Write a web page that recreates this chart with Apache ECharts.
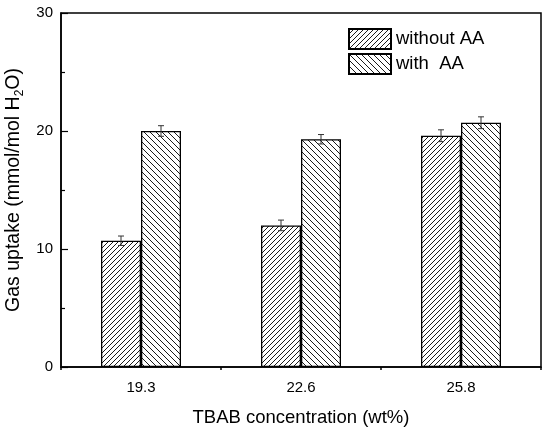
<!DOCTYPE html>
<html>
<head>
<meta charset="utf-8">
<script src="https://cdn.jsdelivr.net/npm/echarts@6/dist/echarts.min.js"></script>
<style>html,body{margin:0;padding:0;background:#fff}#c{width:550px;height:432px}</style>
</head>
<body>
<div id="c"></div>
<script>
const categories = ['19.3', '22.6', '25.8'];
const withoutAA = [10.7, 12.0, 19.6];
const withoutAAErr = [0.4, 0.45, 0.5];
const withAA = [20.0, 19.3, 20.7];
const withAAErr = [0.45, 0.4, 0.5];
const seriesNames = ['without AA', 'with  AA'];

function hatch(size, dir) {
  const cv = document.createElement('canvas');
  cv.width = size; cv.height = size;
  const ctx = cv.getContext('2d');
  ctx.fillStyle = '#fff';
  ctx.fillRect(0, 0, size, size);
  ctx.strokeStyle = '#000';
  ctx.lineWidth = 0.9;
  ctx.beginPath();
  if (dir === '/') {
    ctx.moveTo(-1, size + 1); ctx.lineTo(size + 1, -1);
    ctx.moveTo(-1, 1); ctx.lineTo(1, -1);
    ctx.moveTo(size - 1, size + 1); ctx.lineTo(size + 1, size - 1);
  } else {
    ctx.moveTo(-1, -1); ctx.lineTo(size + 1, size + 1);
    ctx.moveTo(size - 1, -1); ctx.lineTo(size + 1, 1);
    ctx.moveTo(-1, size - 1); ctx.lineTo(1, size + 1);
  }
  ctx.stroke();
  return { image: cv, repeat: 'repeat' };
}

function errData(vals, errs) {
  return vals.map((v, i) => [i, v, errs[i]]);
}

function errRender(offsetFrac) {
  return function (params, api) {
    const i = api.value(0), v = api.value(1), e = api.value(2);
    const bw = api.size([1, 0])[0];
    const c = api.coord([i, v]);
    const x = c[0] + offsetFrac * bw;
    const yh = api.coord([i, v + e])[1];
    const yl = api.coord([i, v - e])[1];
    const cap = 3;
    const st = { stroke: '#333', lineWidth: 1 };
    return {
      type: 'group',
      children: [
        { type: 'line', shape: { x1: x, y1: yh, x2: x, y2: yl }, style: st },
        { type: 'line', shape: { x1: x - cap, y1: yh, x2: x + cap, y2: yh }, style: st },
        { type: 'line', shape: { x1: x - cap, y1: yl, x2: x + cap, y2: yl }, style: st }
      ]
    };
  };
}

const chart = echarts.init(document.getElementById('c'));
const font = 'Liberation Sans, Arial, sans-serif';
chart.setOption({
  animation: false,
  textStyle: { fontFamily: font },
  grid: { left: 61, right: 9, top: 13, bottom: 65, show: true, borderColor: '#000', borderWidth: 1.5, outerBoundsMode: 'none', containLabel: false },
  legend: {
    data: seriesNames,
    orient: 'vertical',
    left: 348, top: 28, padding: 0,
    itemWidth: 42, itemHeight: 20, itemGap: 3,
    icon: 'rect',
    textStyle: { fontSize: 18.5, color: '#000', fontFamily: font, padding: [0, 0, 0, 0] }
  },
  xAxis: {
    type: 'category',
    data: categories,
    axisLine: { lineStyle: { color: '#000', width: 1.5 } },
    axisTick: { show: true, inside: false, length: 3, lineStyle: { color: '#000', width: 1.5 } },
    axisLabel: { fontSize: 15, color: '#000', margin: 13 },
    name: 'TBAB concentration (wt%)',
    nameLocation: 'middle',
    nameGap: 41,
    nameTextStyle: { fontSize: 18.5, color: '#000' }
  },
  yAxis: {
    type: 'value',
    min: 0, max: 30, interval: 10,
    splitLine: { show: false },
    axisLine: { show: true, lineStyle: { color: '#000', width: 1.5 } },
    axisTick: { show: true, inside: true, length: 7, lineStyle: { color: '#000', width: 1.2 } },
    minorTick: { show: true, splitNumber: 2, length: 4, lineStyle: { color: '#000', width: 1.2 } },
    axisLabel: { fontSize: 15, color: '#000', margin: 8 },
    name: 'Gas uptake (mmol/mol H{sub|2}O)',
    nameLocation: 'middle',
    nameGap: 30,
    nameTextStyle: {
      fontSize: 19.5, color: '#000', lineHeight: 24,
      rich: { sub: { fontSize: 12, verticalAlign: 'bottom', lineHeight: 24, color: '#000' } }
    }
  },
  series: [
    {
      name: seriesNames[0], type: 'bar', data: withoutAA,
      barWidth: '25%', barGap: '0%',
      itemStyle: { color: hatch(5, '/'), borderColor: '#000', borderWidth: 1.3 }
    },
    {
      name: seriesNames[1], type: 'bar', data: withAA,
      barWidth: '25%', barGap: '0%',
      itemStyle: { color: hatch(6, '\\'), borderColor: '#000', borderWidth: 1.3 }
    },
    {
      type: 'custom', name: 'err1', data: errData(withoutAA, withoutAAErr),
      encode: { x: 0, y: 1 }, z: 5, renderItem: errRender(-0.125)
    },
    {
      type: 'custom', name: 'err2', data: errData(withAA, withAAErr),
      encode: { x: 0, y: 1 }, z: 5, renderItem: errRender(0.125)
    }
  ]
});
</script>
</body>
</html>
